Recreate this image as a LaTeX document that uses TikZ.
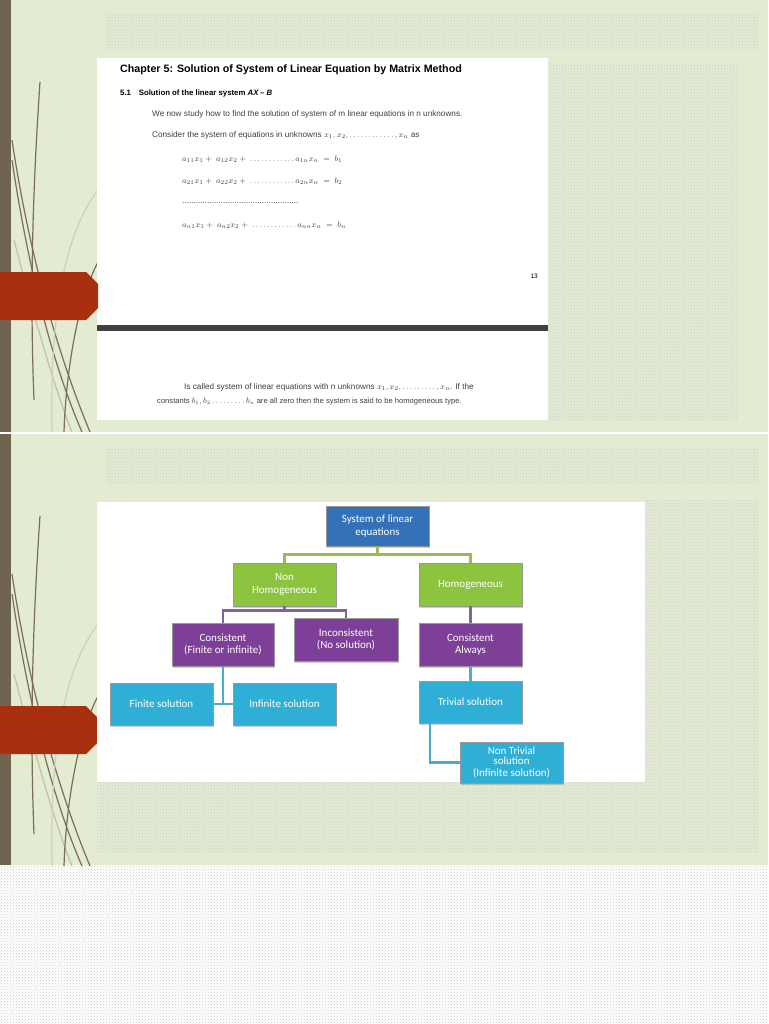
\documentclass[tikz,border=0pt]{standalone}
\usepackage{fontspec}
\setmainfont{Liberation Sans}
\newfontfamily\boxfont{Carlito}
\usetikzlibrary{patterns,shadows}
\definecolor{slidebg}{HTML}{E3EBD3}
\definecolor{barc}{HTML}{6E6450}
\definecolor{tagc}{HTML}{A8300F}
\definecolor{blueb}{HTML}{3371B9}
\definecolor{greenb}{HTML}{8CC43F}
\definecolor{purpb}{HTML}{7E3F98}
\definecolor{cyanb}{HTML}{2FAFD6}
\definecolor{greenl}{HTML}{9BBB59}
\definecolor{purpl}{HTML}{8064A2}
\definecolor{cyanl}{HTML}{4BACC6}
\definecolor{grass}{HTML}{7A6E55}
\tikzset{
  dotbox/.style={pattern=crosshatch dots, pattern color=gray!40},
  dbox/.style={draw=white!60!black, line width=0.5pt, text=white, font=\boxfont\fontsize{11}{12.5}\selectfont, align=center, inner sep=1pt, drop shadow={shadow xshift=1pt, shadow yshift=-1.5pt, opacity=0.4}},
  gl/.style={greenl, line width=2.5pt},
  pl/.style={purpl, line width=2.5pt},
  cl/.style={cyanl, line width=2.5pt},
  gr/.style={grass, line width=1.2pt},
  txt/.style={anchor=west, inner sep=0pt, font=\fontsize{8.2}{9}\selectfont, text=black!75}
}
\newcommand{\bx}[7]{\node[dbox, fill=#6, minimum width={#4-#2}, minimum height={#5-#3}] (#1) at ({(#2+#4)/2},{(#3+#5)/2}) {#7};}
\begin{document}
\begin{tikzpicture}[x=1pt,y=-1pt]
\useasboundingbox (0,0) rectangle (768,1024);
\fill[white] (0,0) rectangle (768,1024);
\fill[dotbox] (0,865) rectangle (768,1024);
% slides
\fill[slidebg] (0,0) rectangle (768,432);
\fill[slidebg] (0,434) rectangle (768,865);
\fill[barc] (0,0) rectangle (11,432);
\fill[barc] (0,434) rectangle (11,865);
% grass slide 1 and 2
\foreach \o in {0,434}{
  \begin{scope}[yshift=-\o]
  \draw[gr] (40,82) .. controls (32,200) and (30,300) .. (34,400);
  \draw[gr] (12,140) .. controls (30,260) and (60,360) .. (90,432);
  \draw[gr] (12,160) .. controls (30,280) and (55,370) .. (82,432);
  \draw[gr, grass!45] (14,240) .. controls (35,320) and (55,390) .. (72,432);
  \draw[gr] (98,262) .. controls (78,300) and (66,370) .. (64,432);
  \draw[gr, grass!35] (98,190) .. controls (60,240) and (50,330) .. (52,432);
  \end{scope}}
% slide 1 panels
\fill[dotbox] (106,15) rectangle (758,50);
\fill[dotbox] (548,65) rectangle (738,420);
\fill[white] (97,58) rectangle (548,420);
\fill[black!75] (97,325) rectangle (548,331);
\fill[tagc] (0,272) -- (86,272) -- (98,284) -- (98,308) -- (86,320) -- (0,320) -- cycle;
\fill[tagc] (0,706) -- (86,706) -- (98,718) -- (98,742) -- (86,754) -- (0,754) -- cycle;
\node[anchor=west, inner sep=0pt, font=\bfseries\fontsize{10.7}{11}\selectfont] (title) at (120,70) {Chapter 5: Solution of System of Linear Equation by Matrix Method};
\node[anchor=west, inner sep=0pt, font=\bfseries\fontsize{7.8}{8}\selectfont] (sec) at (120,93) {5.1\quad Solution of the linear system \textit{AX}\,– \textit{B}};
\node[txt] (l1) at (152,114) {We now study how to find the solution of system of m linear equations in n unknowns.};
\node[txt] (l2) at (152,135) {Consider the system of equations in unknowns $x_1,x_2,\dots\dots\dots\dots, x_n$ as};
\node[txt] (e1) at (182,159) {$a_{11}x_1+\ a_{12}x_2+\ \dots\dots\dots\dots a_{1n}x_n\ =\ b_1$};
\node[txt] (e2) at (182,181) {$a_{21}x_1+\ a_{22}x_2+\ \dots\dots\dots\dots a_{2n}x_n\ =\ b_2$};
\node[txt] (e3) at (182,203) {...................................................};
\node[txt] (e4) at (182,225) {$a_{n1}x_1+\ a_{n2}x_2+\ \dots\dots\dots\dots a_{nn}x_n\ =\ b_n$};
\node[anchor=east, inner sep=0pt, font=\fontsize{6.5}{7}\selectfont] (pg) at (538,276) {13};
\node[txt] (l3) at (184,387) {Is called system of linear equations with n unknowns $x_1,x_2,\dots\dots\dots, x_n$. If the};
\node[txt, font=\fontsize{7.6}{8}\selectfont] (l4) at (157,402) {constants $b_1,b_2\dots\dots\dots b_n$ are all zero then the system is said to be homogeneous type.};
% slide 2 panels
\fill[dotbox] (106,448) rectangle (758,484);
\fill[dotbox] (645,500) rectangle (758,852);
\fill[dotbox] (97,782) rectangle (645,852);
\fill[white] (97,502) rectangle (645,782);
% diagram boxes
\bx{sys}{326}{506}{429}{546}{blueb}{System of linear\\equations}
\bx{nh}{233}{563}{336}{606}{greenb}{Non\\Homogeneous}
\bx{ho}{419}{563}{522}{606}{greenb}{Homogeneous}
\bx{co}{172}{623}{274}{666}{purpb}{Consistent\\(Finite or infinite)}
\bx{in}{294}{618}{398}{661}{purpb}{Inconsistent\\(No solution)}
\bx{ca}{419}{623}{522}{666}{purpb}{Consistent\\Always}
\bx{fi}{110}{683}{213}{725}{cyanb}{Finite solution}
\bx{if}{233}{683}{336}{725}{cyanb}{Infinite solution}
\bx{tr}{419}{681}{522}{723}{cyanb}{Trivial solution}
\bx{nt}{460}{742}{563}{783}{cyanb}{Non Trivial\\[-3pt]solution\\(Infinite solution)}
% connectors
\draw[gl] (sys.south) -- ++(0,8) -| (nh.north);
\draw[gl] (sys.south) -- ++(0,8) -| (ho.north);
\draw[pl] (nh.south) -- ++(0,4) -| (co.north);
\draw[pl] (nh.south) -- ++(0,4) -| (in.north);
\draw[pl] (ho.south) -- (ca.north);
\draw[cl] (co.south) |- (fi.east);
\draw[cl] (co.south) |- (if.west);
\draw[cl] (ca.south) -- (tr.north);
\coordinate (tb) at (430,723);
\draw[cl] (tb) |- (nt.west);
\end{tikzpicture}
\end{document}
